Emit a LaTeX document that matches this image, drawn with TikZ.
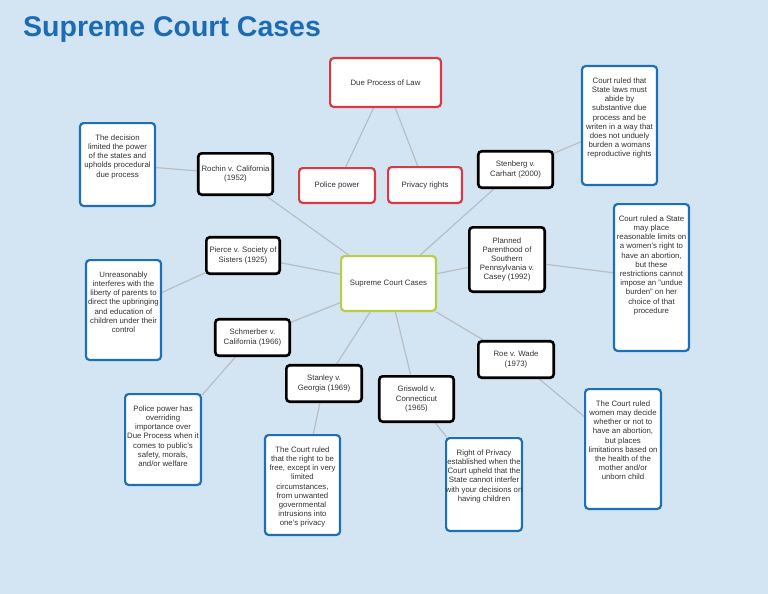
\documentclass[tikz,border=0pt]{standalone}
\usepackage{fontspec}
\setmainfont{Liberation Sans}
\usetikzlibrary{backgrounds}
\definecolor{PageBlue}{HTML}{D3E5F2}
\definecolor{TitleBlue}{HTML}{1C6CB4}
\definecolor{NoteBlue}{HTML}{1D6FB6}
\definecolor{TopicRed}{HTML}{D53A45}
\definecolor{HubGreen}{HTML}{B7CF45}
\definecolor{LinkGray}{HTML}{B9BEC3}
\definecolor{Ink}{HTML}{333333}

\begin{document}
\begin{tikzpicture}[x=1pt,y=-1pt,
    box/.style={rounded corners=3.5pt,fill=white,inner sep=0pt,text=Ink,align=center,font=\fontsize{7.8}{9.2}\selectfont},
    casebox/.style={box,draw=black,line width=2.6pt,minimum width=74.5pt,minimum height=36.5pt},
    topicbox/.style={box,draw=TopicRed,line width=2.2pt},
    hubbox/.style={box,draw=HubGreen,line width=2.2pt},
    notebox/.style={box,draw=NoteBlue,line width=2.2pt,minimum width=75pt},
    notetext/.style={anchor=north,inner sep=0pt,text=Ink,align=center,font=\fontsize{7.8}{9.2}\selectfont,yshift=-12.5pt},
    link/.style={draw=LinkGray,line width=1.2pt}]
    % title
    \node[anchor=base west,inner sep=0pt,text=TitleBlue,font=\fontsize{28.5}{30}\selectfont\bfseries] (title) at (23,37) {Supreme Court Cases};

    % topic boxes
    \node[topicbox,minimum width=110.8pt,minimum height=48.8pt] (dueproc) at (385.5,82.5) {Due Process of Law};
    \node[topicbox,minimum width=75.8pt,minimum height=34.8pt] (police) at (337,185.5) {Police power};
    \node[topicbox,minimum width=73.8pt,minimum height=35.8pt] (privacy) at (425,185) {Privacy rights};
    \node[hubbox,minimum width=94.8pt,minimum height=54.8pt] (hub) at (388.5,283.5) {Supreme Court Cases};

    % cases
    \node[casebox,minimum height=41.4pt] (rochin) at (235.5,174) {Rochin v. California\\(1952)};
    \node[casebox] (stenberg) at (515.5,169.5) {Stenberg v.\\Carhart (2000)};
    \node[casebox,minimum width=75.4pt,minimum height=64.4pt] (casey) at (507,259.5) {Planned\\Parenthood of\\Southern\\Pennsylvania v.\\Casey (1992)};
    \node[casebox,minimum width=73.4pt] (pierce) at (243,255.5) {Pierce v. Society of\\Sisters (1925)};
    \node[casebox] (schmerber) at (252.5,337.5) {Schmerber v.\\California (1966)};
    \node[casebox,minimum width=75.4pt] (stanley) at (324,383.5) {Stanley v.\\Georgia (1969)};
    \node[casebox,minimum height=45.4pt] (griswold) at (416.5,399) {Griswold v.\\Connecticut\\(1965)};
    \node[casebox,minimum width=75.4pt] (roe) at (516,359.5) {Roe v. Wade\\(1973)};

    % rulings
    \node[notebox,minimum height=82.8pt] (decision) at (117.5,164.5) {};
    \node[notetext] (decisiontext) at (decision.north) {The decision\\limited the power\\of the states and\\upholds procedural\\due process};
    \node[notebox,minimum height=118.8pt] (lawsnote) at (619.5,125.5) {};
    \node[notetext] (lawstext) at (lawsnote.north) {Court ruled that\\State laws must\\abide by\\substantive due\\process and be\\writen in a way that\\does not unduely\\burden a womans\\reproductive rights};
    \node[notebox,minimum height=146.8pt] (limitsnote) at (651.5,277.5) {};
    \node[notetext] (limitstext) at (limitsnote.north) {Court ruled a State\\may place\\reasonable limits on\\a women's right to\\have an abortion,\\but these\\restrictions cannot\\impose an "undue\\burden" on her\\choice of that\\procedure};
    \node[notebox,minimum height=99.8pt] (parentsnote) at (123.5,310) {};
    \node[notetext] (parentstext) at (parentsnote.north) {Unreasonably\\interferes with the\\liberty of parents to\\direct the upbringing\\and education of\\children under their\\control};
    \node[notebox,minimum width=75.8pt,minimum height=90.8pt] (policenote) at (163,439.5) {};
    \node[notetext] (policetext) at (policenote.north) {Police power has\\overriding\\importance over\\Due Process when it\\comes to public's\\safety, morals,\\and/or welfare};
    \node[notebox,minimum height=99.8pt] (freenote) at (302.5,485) {};
    \node[notetext] (freetext) at (freenote.north) {The Court ruled\\that the right to be\\free, except in very\\limited\\circumstances,\\from unwanted\\governmental\\intrusions into\\one's privacy};
    \node[notebox,minimum width=75.8pt,minimum height=92.8pt] (childnote) at (484,484.5) {};
    \node[notetext] (childtext) at (childnote.north) {Right of Privacy\\established when the\\Court upheld that the\\State cannot interfer\\with your decisions on\\having children};
    \node[notebox,minimum width=75.8pt,minimum height=119.8pt] (abortnote) at (623,449) {};
    \node[notetext] (aborttext) at (abortnote.north) {The Court ruled\\women may decide\\whether or not to\\have an abortion,\\but places\\limitations based on\\the health of the\\mother and/or\\unborn child};

    \begin{scope}[on background layer]
      \fill[PageBlue] (0,0) rectangle (768,594);
      \useasboundingbox (0,0) rectangle (768,594);
      \draw[link] (dueproc) -- (police);
      \draw[link] (dueproc) -- (privacy);
      \draw[link] (hub) -- (rochin);
      \draw[link] (hub) -- (stenberg);
      \draw[link] (hub) -- (casey);
      \draw[link] (hub) -- (pierce);
      \draw[link] (hub) -- (schmerber);
      \draw[link] (hub) -- (stanley);
      \draw[link] (hub) -- (griswold);
      \draw[link] (hub) -- (roe);
      \draw[link] (rochin) -- (decision);
      \draw[link] (stenberg) -- (lawsnote);
      \draw[link] (casey) -- (limitsnote);
      \draw[link] (pierce) -- (parentsnote);
      \draw[link] (schmerber) -- (policenote);
      \draw[link] (stanley) -- (freenote);
      \draw[link] (griswold) -- (childnote);
      \draw[link] (roe) -- (abortnote);
    \end{scope}
\end{tikzpicture}
\end{document}
